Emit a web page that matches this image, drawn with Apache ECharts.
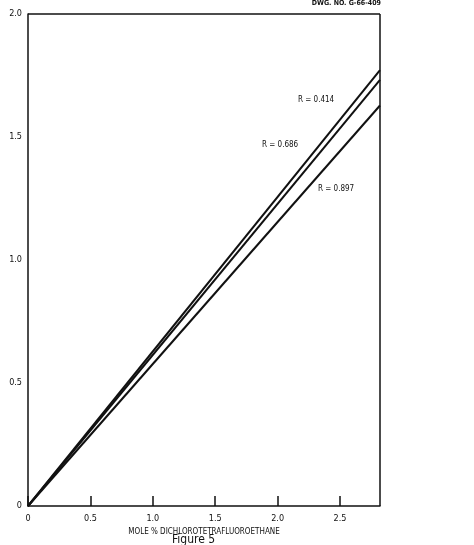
<!DOCTYPE html>
<html><head><meta charset="utf-8">
<script src="https://cdn.jsdelivr.net/npm/echarts@6/dist/echarts.min.js"></script>
<style>body{margin:0;background:#fff}#c{width:474px;height:545px}</style>
</head><body><div id="c"></div>
<script>
var xEnds = [0, 2.82];
var lineR414 = [0, 1.772];
var lineR686 = [0, 1.732];
var lineR897 = [0, 1.628];
var xTicks = ['0', '0.5', '1.0', '1.5', '2.0', '2.5'];

function pts(ys) { return xEnds.map(function (x, i) { return [x, ys[i]]; }); }
var F = '"DejaVu Sans Condensed", "DejaVu Sans", sans-serif';
function lineSeries(ys) {
    return { type: 'line', data: pts(ys), showSymbol: false, lineStyle: { color: '#111', width: 2 } };
}

var chart = echarts.init(document.getElementById('c'));
chart.setOption({
    animation: false,
    grid: { left: 28, right: 94, top: 14, bottom: 39, containLabel: false, outerBoundsMode: 'none' },
    xAxis: {
        type: 'value', min: 0, max: 2.82, interval: 0.5,
        axisLine: { lineStyle: { color: '#111', width: 1.5 } },
        axisTick: { inside: true, length: 10, lineStyle: { color: '#111', width: 1.5 } },
        splitLine: { show: false },
        axisLabel: { color: '#111', fontSize: 9, fontFamily: F, showMaxLabel: false,
            formatter: function (v) { return xTicks[Math.round(v * 2)] || ''; } },
        name: 'MOLE % DICHLOROTETRAFLUOROETHANE', nameLocation: 'middle', nameGap: 21,
        nameTextStyle: { color: '#111', fontSize: 8, fontFamily: F }
    },
    yAxis: {
        type: 'value', min: 0, max: 2, interval: 0.5,
        axisLine: { show: true, lineStyle: { color: '#111', width: 1.5 } },
        axisTick: { show: false },
        splitLine: { show: false },
        axisLabel: { color: '#111', fontSize: 9, fontFamily: F, margin: 6,
            formatter: function (v) { return v === 0 ? '0' : v.toFixed(1); } },
        name: 'FREEZING POINT DEPRESSION, °C.', nameLocation: 'middle', nameGap: 22,
        nameTextStyle: { color: '#111', fontSize: 8, fontFamily: F }
    },
    graphic: [
        { type: 'line', shape: { x1: 380, y1: 14, x2: 28, y2: 14 }, style: { stroke: '#111', lineWidth: 1.5 } },
        { type: 'line', shape: { x1: 380, y1: 14, x2: 380, y2: 506 }, style: { stroke: '#111', lineWidth: 1.5 } },
        { type: 'text', left: 262, top: 141, style: { text: 'R = 0.686', fill: '#111', font: '8px ' + F } },
        { type: 'text', left: 298, top: 96, style: { text: 'R = 0.414', fill: '#111', font: '8px ' + F } },
        { type: 'text', left: 318, top: 185, style: { text: 'R = 0.897', fill: '#111', font: '8px ' + F } },
        { type: 'text', right: 93, top: 0, style: { text: 'DWG. NO. G-66-409', fill: '#111', font: 'bold 7px ' + F } },
        { type: 'text', left: 172, top: 534, style: { text: 'Figure 5', fill: '#111', font: '12px ' + F } }
    ],
    series: [lineSeries(lineR414), lineSeries(lineR686), lineSeries(lineR897)]
});
</script></body></html>
